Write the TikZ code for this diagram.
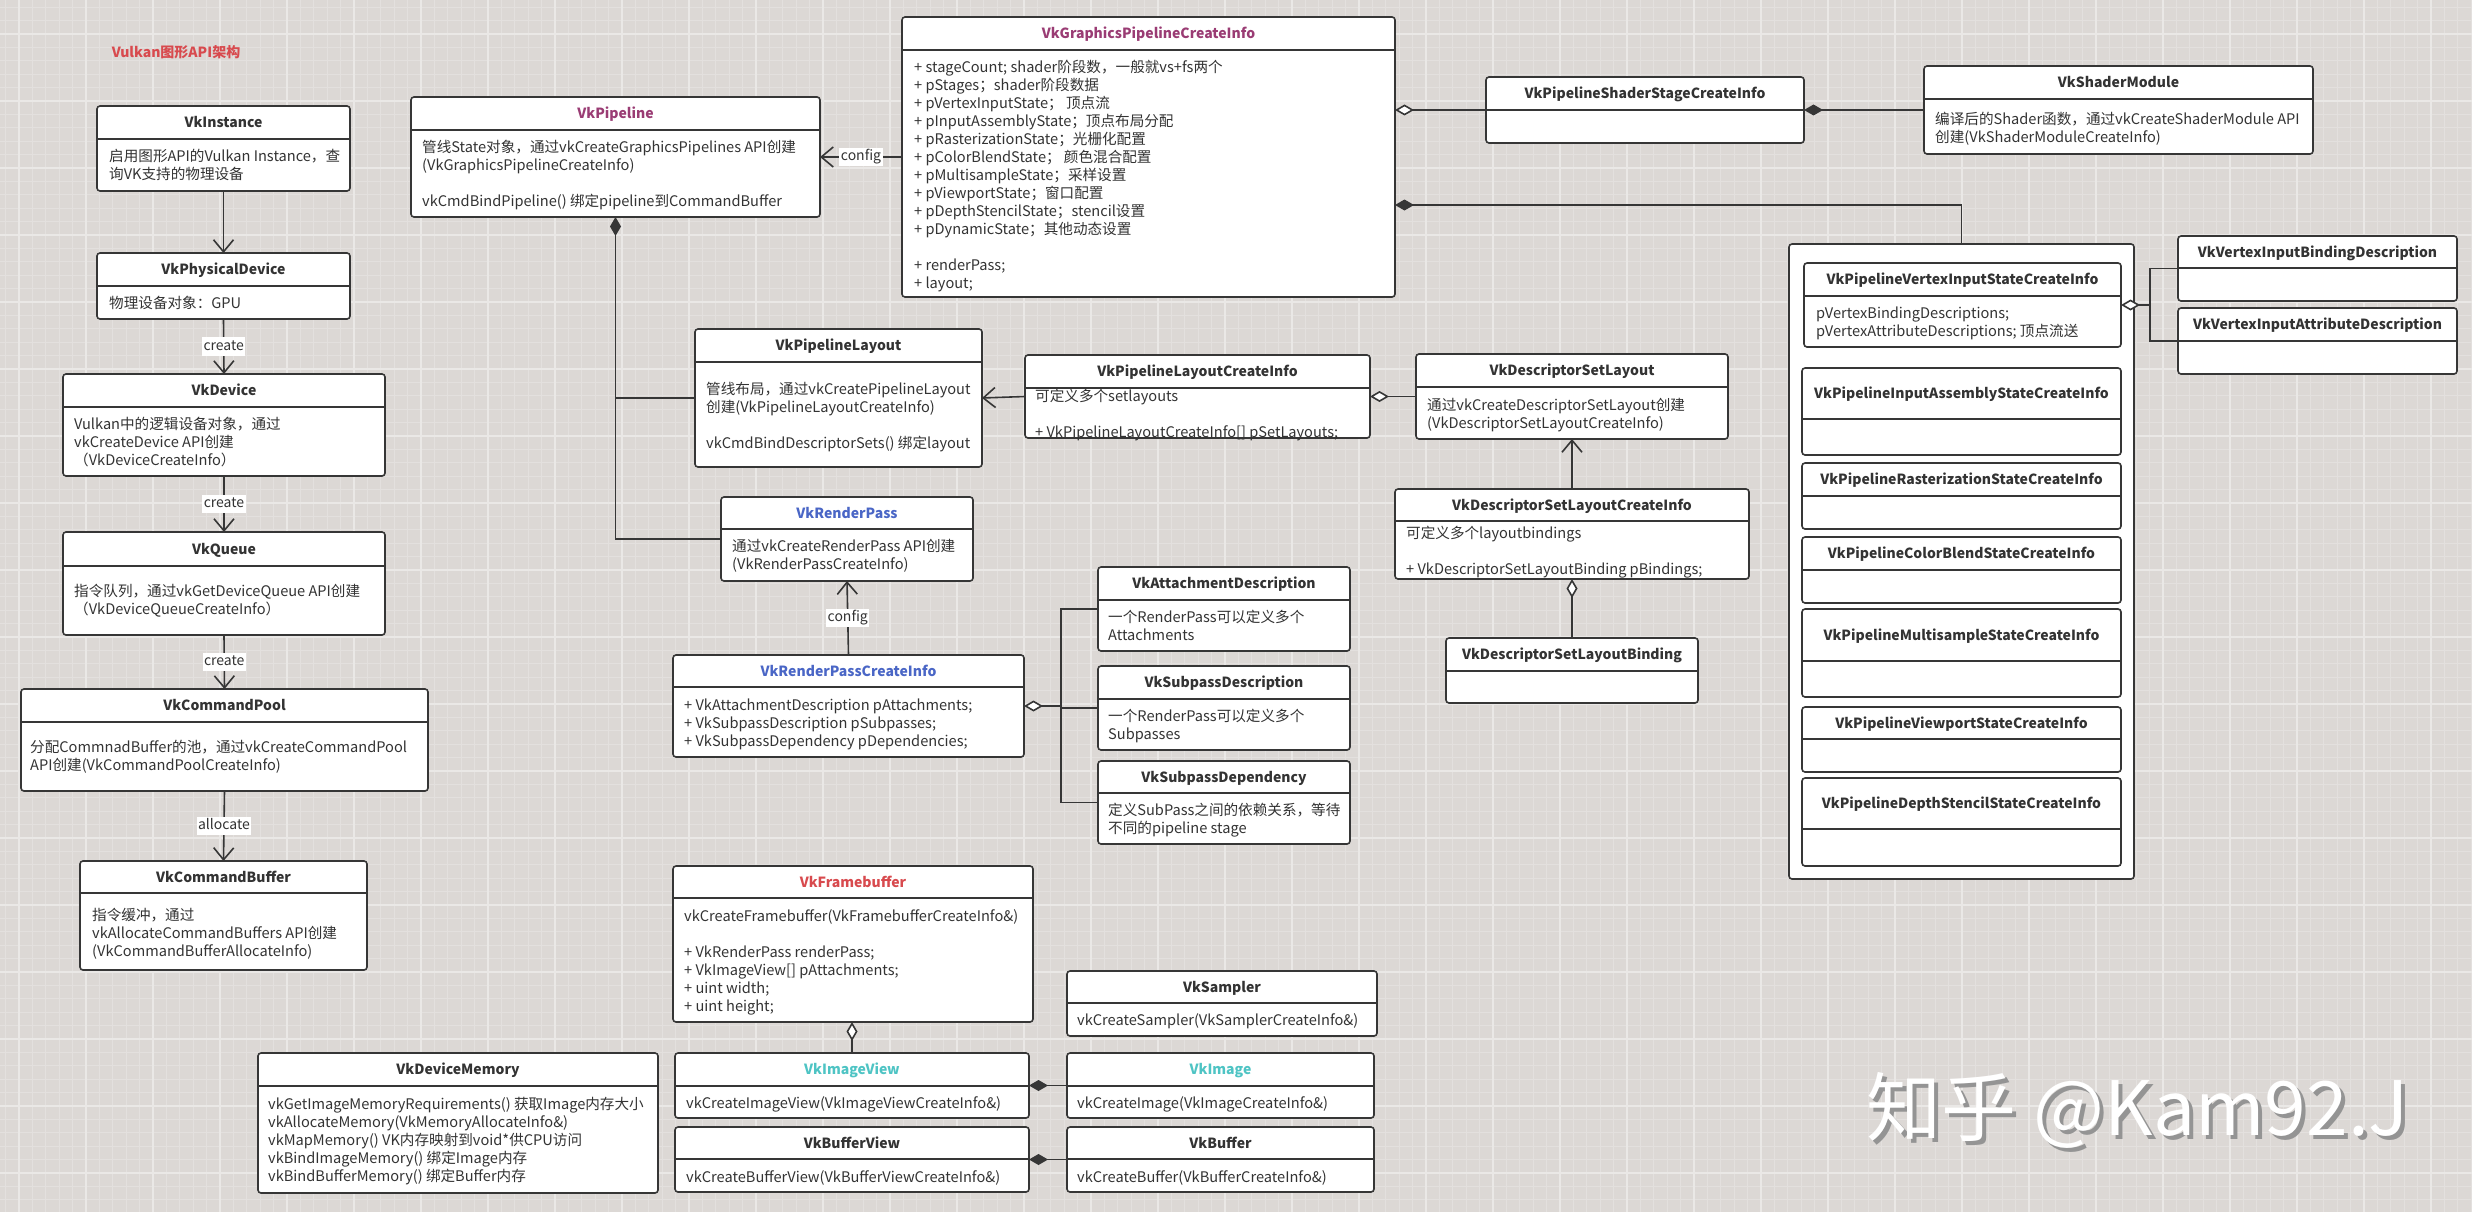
\documentclass[tikz,border=0pt]{standalone}
\usepackage{fontspec}
\setmainfont{Noto Sans CJK SC}
\usetikzlibrary{arrows.meta}
\definecolor{bgc}{HTML}{DCD8D5}
\definecolor{gminor}{HTML}{E3E0DE}
\definecolor{gmajor}{HTML}{EAE8E6}
\definecolor{boxc}{HTML}{363636}
\definecolor{txtc}{HTML}{333333}
\definecolor{purp}{HTML}{9A3C74}
\definecolor{blu}{HTML}{4A66C6}
\definecolor{redc}{HTML}{D84A4E}
\definecolor{tealc}{HTML}{4EC4C4}
\newcommand\mystrut{\rule{0pt}{13pt}}
\tikzset{
  ubx/.style={draw=boxc, line width=1.6pt, fill=white, rounded corners=3pt, inner sep=0pt, outer sep=0pt},
  hdr/.style={font=\fontsize{14}{17}\selectfont\bfseries, text=txtc, inner sep=0pt, anchor=base},
  bdy/.style={font=\fontsize{14.6}{18}\selectfont, text=txtc, align=left, anchor=north west, inner sep=0pt},
  lbl/.style={fill=white, inner xsep=1.5pt, inner ysep=2.5pt, text height=10.5pt, text depth=3pt, font=\fontsize{14}{17}\selectfont, text=txtc},
  conn/.style={draw=boxc, line width=1.6pt},
  oarr/.style={-{Straight Barb[length=12pt,width=20pt]}},
  fdia/.style={-{Diamond[length=19pt,width=11pt]}},
  odia/.style={-{Diamond[length=19pt,width=11pt,fill=white]}},
  fdiab/.style={{Diamond[length=19pt,width=11pt]}-},
  odiab/.style={{Diamond[length=19pt,width=11pt,fill=white]}-}
}
% name, x1, y1, x2, y2, ydiv, title, colour
\newcommand\ubox[8]{%
  \node[ubx, minimum width={#4pt-#2pt}, minimum height={#5pt-#3pt}] (#1) at ({(#2+#4)/2},{(#3+#5)/2}) {};
  \draw[boxc, line width=1.6pt] (#2,#6) -- (#4,#6);
  \node[hdr, text=#8] (#1-t) at ({(#2+#4)/2},{(#3+#6)/2+5}) {#7};
}
\newcommand\btext[4]{\node[bdy] (#1-b) at (#2,#3-8) {\mystrut #4};}
\begin{document}
\begin{tikzpicture}[x=1pt,y=-1pt]
\useasboundingbox (0,0) rectangle (2472,1212);
\fill[bgc] (0,0) rectangle (2472,1212);
\foreach \x in {5.6,19,...,2472} \draw[gminor, line width=0.8pt] (\x,0) -- (\x,1212);
\foreach \y in {7.2,20.6,...,1212} \draw[gminor, line width=0.8pt] (0,\y) -- (2472,\y);
\foreach \x in {19,86,...,2472} \draw[gmajor, line width=1.5pt] (\x,0) -- (\x,1212);
\foreach \y in {34,101,...,1212} \draw[gmajor, line width=1.5pt] (0,\y) -- (2472,\y);

\node[font=\fontsize{14}{16}\selectfont\bfseries, text=redc, anchor=base, inner sep=0pt] (title) at (176,58) {Vulkan图形API架构};

% left column
\ubox{inst}{97}{106}{350}{191}{139}{VkInstance}{txtc}
\btext{inst}{109}{156}{启用图形API的Vulkan Instance，查\\询VK支持的物理设备}
\ubox{phys}{97}{253}{350}{319}{286}{VkPhysicalDevice}{txtc}
\btext{phys}{109}{303}{物理设备对象：GPU}
\ubox{dev}{63}{374}{385}{476}{407}{VkDevice}{txtc}
\btext{dev}{74}{424}{Vulkan中的逻辑设备对象，通过\\vkCreateDevice API创建\\（VkDeviceCreateInfo）}
\ubox{queue}{63}{532}{385}{635}{566}{VkQueue}{txtc}
\btext{queue}{74}{591}{指令队列，通过vkGetDeviceQueue API创建\\（VkDeviceQueueCreateInfo）}
\ubox{cpool}{21}{689}{428}{791}{722}{VkCommandPool}{txtc}
\btext{cpool}{30}{747}{分配CommnadBuffer的池，通过vkCreateCommandPool\\API创建(VkCommandPoolCreateInfo)}
\ubox{cbuf}{80}{861}{367}{970}{893}{VkCommandBuffer}{txtc}
\btext{cbuf}{92}{915}{指令缓冲，通过\\vkAllocateCommandBuffers API创建\\(VkCommandBufferAllocateInfo)}
\ubox{dmem}{258}{1053}{658}{1193}{1086}{VkDeviceMemory}{txtc}
\btext{dmem}{268}{1104}{vkGetImageMemoryRequirements() 获取Image内存大小\\vkAllocateMemory(VkMemoryAllocateInfo\&)\\vkMapMemory() VK内存映射到void*供CPU访问\\vkBindImageMemory() 绑定Image内存\\vkBindBufferMemory() 绑定Buffer内存}

% pipeline
\ubox{pipe}{411}{97}{820}{217}{130}{VkPipeline}{purp}
\btext{pipe}{422}{147}{管线State对象，通过vkCreateGraphicsPipelines API创建\\(VkGraphicsPipelineCreateInfo)\\[18pt]vkCmdBindPipeline() 绑定pipeline到CommandBuffer}
\ubox{gpci}{902}{17}{1395}{297}{50}{VkGraphicsPipelineCreateInfo}{purp}
\btext{gpci}{914}{67}{+ stageCount; shader阶段数，一般就vs+fs两个\\+ pStages；shader阶段数据\\+ pVertexInputState；~顶点流\\+ pInputAssemblyState；顶点布局分配\\+ pRasterizationState；光栅化配置\\+ pColorBlendState；~颜色混合配置\\+ pMultisampleState；采样设置\\+ pViewportState；窗口配置\\+ pDepthStencilState；stencil设置\\+ pDynamicState；其他动态设置\\[18pt]+ renderPass;\\+ layout;}
\ubox{play}{695}{329}{982}{467}{362}{VkPipelineLayout}{txtc}
\btext{play}{706}{389}{管线布局，通过vkCreatePipelineLayout\\创建(VkPipelineLayoutCreateInfo)\\[18pt]vkCmdBindDescriptorSets() 绑定layout}
\ubox{plci}{1025}{355}{1370}{438}{388}{VkPipelineLayoutCreateInfo}{txtc}
\btext{plci}{1035}{396}{可定义多个setlayouts\\[18pt]+ VkPipelineLayoutCreateInfo[] pSetLayouts;}
\ubox{dsl}{1416}{354}{1728}{439}{387}{VkDescriptorSetLayout}{txtc}
\btext{dsl}{1427}{405}{通过vkCreateDescriptorSetLayout创建\\(VkDescriptorSetLayoutCreateInfo)}
\ubox{dslci}{1395}{489}{1749}{579}{521}{VkDescriptorSetLayoutCreateInfo}{txtc}
\btext{dslci}{1406}{533}{可定义多个layoutbindings\\[18pt]+ VkDescriptorSetLayoutBinding pBindings;}
\ubox{dslb}{1446}{638}{1698}{703}{671}{VkDescriptorSetLayoutBinding}{txtc}

% render pass
\ubox{rp}{721}{497}{973}{581}{529}{VkRenderPass}{blu}
\btext{rp}{732}{546}{通过vkCreateRenderPass API创建\\(VkRenderPassCreateInfo)}
\ubox{rpci}{673}{655}{1024}{757}{687}{VkRenderPassCreateInfo}{blu}
\btext{rpci}{684}{705}{+ VkAttachmentDescription pAttachments;\\+ VkSubpassDescription pSubpasses;\\+ VkSubpassDependency pDependencies;}
\ubox{att}{1098}{567}{1350}{651}{600}{VkAttachmentDescription}{txtc}
\btext{att}{1108}{617}{一个RenderPass可以定义多个\\Attachments}
\ubox{sub}{1098}{666}{1350}{750}{699}{VkSubpassDescription}{txtc}
\btext{sub}{1108}{716}{一个RenderPass可以定义多个\\Subpasses}
\ubox{dep}{1098}{761}{1350}{844}{793}{VkSubpassDependency}{txtc}
\btext{dep}{1108}{810}{定义SubPass之间的依赖关系，等待\\不同的pipeline stage}

% framebuffer and resources
\ubox{fb}{673}{866}{1033}{1022}{898}{VkFramebuffer}{redc}
\btext{fb}{684}{916}{vkCreateFramebuffer(VkFramebufferCreateInfo\&)\\[18pt]+ VkRenderPass renderPass;\\+ VkImageView[] pAttachments;\\+ uint width;\\+ uint height;}
\ubox{samp}{1067}{971}{1377}{1036}{1003}{VkSampler}{txtc}
\btext{samp}{1077}{1020}{vkCreateSampler(VkSamplerCreateInfo\&)}
\ubox{iv}{675}{1053}{1029}{1118}{1086}{VkImageView}{tealc}
\btext{iv}{686}{1103}{vkCreateImageView(VkImageViewCreateInfo\&)}
\ubox{img}{1067}{1053}{1374}{1118}{1086}{VkImage}{tealc}
\btext{img}{1077}{1103}{vkCreateImage(VkImageCreateInfo\&)}
\ubox{bv}{675}{1127}{1029}{1192}{1159}{VkBufferView}{txtc}
\btext{bv}{686}{1177}{vkCreateBufferView(VkBufferViewCreateInfo\&)}
\ubox{buf}{1067}{1127}{1374}{1192}{1159}{VkBuffer}{txtc}
\btext{buf}{1077}{1177}{vkCreateBuffer(VkBufferCreateInfo\&)}

% shader
\ubox{sss}{1486}{77}{1804}{143}{110}{VkPipelineShaderStageCreateInfo}{txtc}
\ubox{sm}{1924}{66}{2313}{154}{99}{VkShaderModule}{txtc}
\btext{sm}{1935}{119}{编译后的Shader函数，通过vkCreateShaderModule API\\创建(VkShaderModuleCreateInfo)}

% state container
\node[ubx, minimum width={345pt}, minimum height={635pt}] (cont) at (1961.5,561.5) {};
\ubox{vis}{1804}{263}{2121}{347}{296}{VkPipelineVertexInputStateCreateInfo}{txtc}
\btext{vis}{1816}{313}{pVertexBindingDescriptions;\\pVertexAttributeDescriptions; 顶点流送}
\ubox{vib}{2178}{236}{2457}{301}{268}{VkVertexInputBindingDescription}{txtc}
\ubox{via}{2178}{308}{2457}{374}{341}{VkVertexInputAttributeDescription}{txtc}
\ubox{ias}{1802}{368}{2121}{455}{419}{VkPipelineInputAssemblyStateCreateInfo}{txtc}
\ubox{ras}{1802}{463}{2121}{529}{496}{VkPipelineRasterizationStateCreateInfo}{txtc}
\ubox{cbs}{1802}{537}{2121}{603}{570}{VkPipelineColorBlendStateCreateInfo}{txtc}
\ubox{mss}{1802}{609}{2121}{697}{661}{VkPipelineMultisampleStateCreateInfo}{txtc}
\ubox{vps}{1802}{707}{2121}{772}{739}{VkPipelineViewportStateCreateInfo}{txtc}
\ubox{dss}{1802}{778}{2121}{866}{829}{VkPipelineDepthStencilStateCreateInfo}{txtc}

% connectors: left column
\draw[conn, oarr] (inst.south) -- (phys.north);
\draw[conn, oarr] (phys.south) -- node[lbl] (l1) {create} (dev.north);
\draw[conn, oarr] (dev.south) -- node[lbl] (l2) {create} (queue.north);
\draw[conn, oarr] (queue.south) -- node[lbl] (l3) {create} (cpool.north);
\draw[conn, oarr] (cpool.south) -- node[lbl] (l4) {allocate} (cbuf.north);

% pipeline connectors
\draw[conn, oarr] (gpci.west) -- node[lbl] (l5) {config} (pipe.east);
\draw[conn, fdiab] (pipe.south) |- (rp.west);
\draw[conn] (pipe.south |- play.west) -- (play.west);
\draw[conn, oarr] (plci.west) -- (play.east);
\draw[conn, odia] (dsl.west) -- (plci.east);
\draw[conn, oarr] (dslci.north) -- (dsl.south);
\draw[conn, odia] (dslb.north) -- (dslci.south);

% render pass connectors
\draw[conn, oarr] (rpci.north) -- node[lbl] (l6) {config} (rp.south);
\coordinate (rj) at (1061,706);
\draw[conn, odiab] (rpci.east) -- (rj);
\draw[conn] (att.west) -| (rj) |- (dep.west);
\draw[conn] (rj |- sub.west) -- (sub.west);

% framebuffer connectors
\draw[conn, odia] (iv.north) -- (iv.north |- fb.south);
\draw[conn, fdia] (img.west) -- (iv.east);
\draw[conn, fdia] (buf.west) -- (bv.east);

% shader / state connectors
\draw[conn, odia] (sss.west) -- (sss.west -| gpci.east);
\draw[conn, fdia] (sm.west) -- (sss.east);
\coordinate (gy) at (0,205);
\draw[conn, fdia] (cont.north) |- (gpci.east |- gy);
\coordinate (vj) at (2150,305);
\draw[conn, odiab] (vis.east) -- (vis.east -| vj);
\draw[conn] (vib.west) -| (vj) |- (via.west);

% watermark
\node[font=\fontsize{75}{80}\selectfont, text=black!42, inner sep=0pt] (wms) at (2142,1114) {知乎 @Kam92.J};
\node[font=\fontsize{75}{80}\selectfont, text=white, inner sep=0pt] (wm) at (2138,1110) {知乎 @Kam92.J};
\end{tikzpicture}
\end{document}
